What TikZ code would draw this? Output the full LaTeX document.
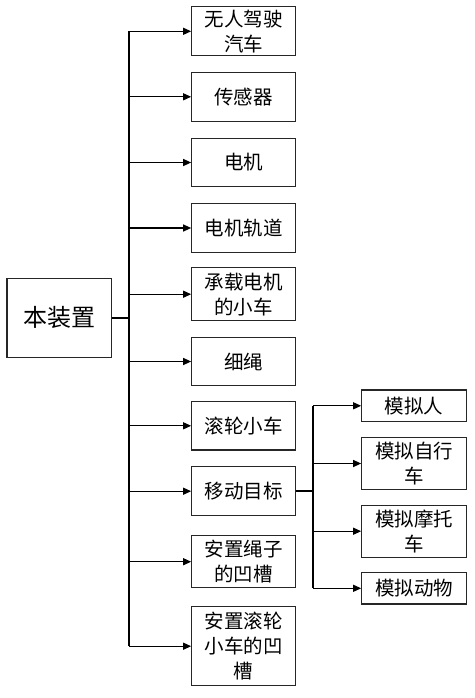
\documentclass[tikz,border=0pt]{standalone}
\usepackage{fontspec}
\newfontfamily\cjk{Noto Sans CJK SC}
\usetikzlibrary{arrows.meta}
\begin{document}
\begin{tikzpicture}[x=1pt,y=-1pt,
  box/.style={draw=black!85, line width=1.1pt, align=center, inner sep=0pt,
    font=\cjk\fontsize{19.5}{25}\selectfont},
  rbox/.style={box, minimum width=103.8pt},
  sbox/.style={box, minimum width=105pt},
  arr/.style={draw=black, line width=1.2pt, -{Triangle[length=8pt,width=7pt]}},
  ln/.style={draw=black, line width=1.3pt}]
\useasboundingbox (0,0) rectangle (474,698);
\node[box, minimum width=104.7pt, minimum height=79pt, font=\cjk\fontsize{24}{29}\selectfont] (main) at (59.3,317.8) {本装置};
\node[rbox, minimum height=49.3pt] (r1) at (243.6,31.3) {无人驾驶\\汽车};
\node[rbox, minimum height=49pt] (r2) at (243.6,96.8) {传感器};
\node[rbox, minimum height=48.4pt] (r3) at (243.6,162.5) {电机};
\node[rbox, minimum height=48.6pt] (r4) at (243.6,228) {电机轨道};
\node[rbox, minimum height=53pt] (r5) at (243.6,294.2) {承载电机\\的小车};
\node[rbox, minimum height=48.4pt] (r6) at (243.6,361.5) {细绳};
\node[rbox, minimum height=48.3pt] (r7) at (243.6,425.8) {滚轮小车};
\node[rbox, minimum height=49pt] (r8) at (243.6,491.2) {移动目标};
\node[rbox, minimum height=52pt] (r9) at (243.6,561.7) {安置绳子\\的凹槽};
\node[rbox, minimum height=79pt] (r10) at (243.6,646.2) {安置滚轮\\小车的凹\\槽};
\node[sbox, minimum height=31.7pt] (sa) at (414.2,405.8) {模拟人};
\node[sbox, minimum height=51.6pt] (sb) at (414.2,463.5) {模拟自行\\车};
\node[sbox, minimum height=52.3pt] (sc) at (414.2,531.2) {模拟摩托\\车};
\node[sbox, minimum height=31.3pt] (sd) at (414.2,588.3) {模拟动物};
\coordinate (bus) at (129,0);
\coordinate (sbus) at (313,0);
% main bus
\draw[ln, line width=2pt] (main.east) -- (bus |- main);
\draw[ln] (bus |- r1) -- (bus |- r10);
\foreach \n in {r1,r2,r3,r4,r5,r6,r7,r8,r9,r10}
  \draw[arr] (bus |- \n) -- (\n.west);
% sub bus
\draw[ln, line width=2pt] (r8.east) -- (sbus |- r8);
\draw[ln] (sbus |- sa) -- (sbus |- sd);
\foreach \n in {sa,sb,sc,sd}
  \draw[arr] (sbus |- \n) -- (\n.west);
\end{tikzpicture}
\end{document}
